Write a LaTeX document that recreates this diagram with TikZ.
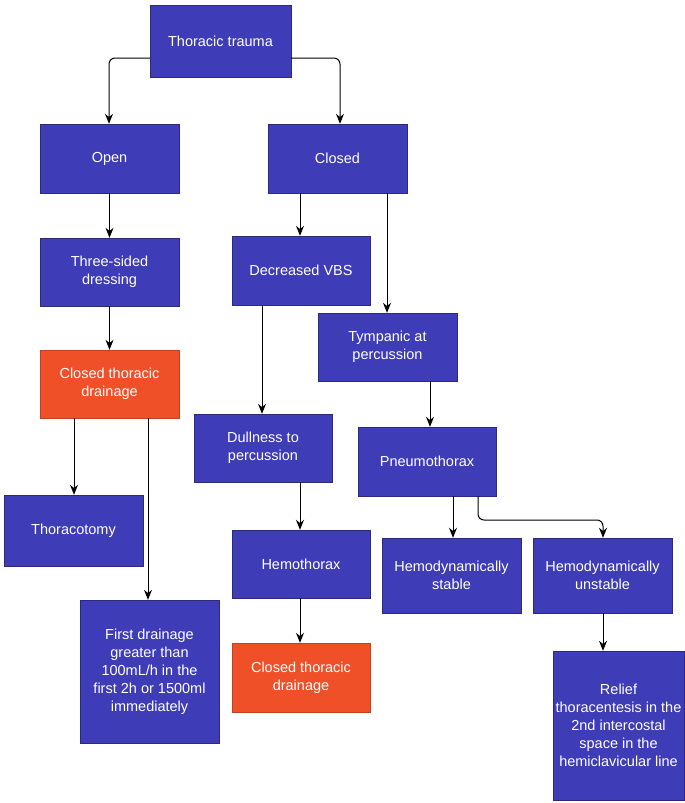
\documentclass[tikz,border=0pt]{standalone}
\usepackage{fontspec}
\setmainfont{Liberation Sans}
\usetikzlibrary{arrows.meta}
\definecolor{bx}{RGB}{62,60,182}
\definecolor{rd}{RGB}{240,80,40}
\begin{document}
\begin{tikzpicture}[x=1pt,y=-1pt,
 box/.style={fill=bx,draw=bx!70!black,line width=0.4pt,text=white,align=center,font=\fontsize{14.5}{18}\selectfont,inner sep=2pt},
 red/.style={box,fill=rd,draw=rd!80!black},
 arr/.style={-{Stealth[length=10pt,width=8pt]},line width=1pt,rounded corners=6pt}]
\useasboundingbox (0,0) rectangle (685,803);
\newcommand\bxat[7]{\node[#1,minimum width=#4-#2,minimum height=#5-#3] (#6) at ({(#2+#4)/2},{(#3+#5)/2}) {#7};}
\bxat{box}{150}{5}{291}{77}{tt}{Thoracic trauma}
\bxat{box}{40}{124}{179}{193}{op}{Open}
\bxat{box}{268}{124}{407}{193}{cl}{Closed}
\bxat{box}{40}{238}{179}{306}{ts}{Three-sided\\dressing}
\bxat{box}{232}{236}{370}{305}{dv}{Decreased VBS}
\bxat{red}{40}{350}{179}{418}{cd}{Closed thoracic\\drainage}
\bxat{box}{318}{313}{457}{381}{ty}{Tympanic at\\percussion}
\bxat{box}{4}{495}{143}{566}{th}{Thoracotomy}
\bxat{box}{194}{414}{332}{482}{du}{Dullness to\\percussion}
\bxat{box}{358}{427}{496}{496}{pn}{Pneumothorax}
\bxat{box}{232}{530}{370}{598}{he}{Hemothorax}
\bxat{box}{382}{538}{521}{613}{hs}{Hemodynamically\\stable}
\bxat{box}{533}{538}{672}{613}{hu}{Hemodynamically\\unstable}
\bxat{box}{80}{600}{219}{743}{fd}{First drainage\\greater than\\100mL/h in the\\first 2h or 1500ml\\immediately}
\bxat{red}{232}{643}{370}{712}{cd2}{Closed thoracic\\drainage}
\bxat{box}{553}{651}{684}{800}{re}{Relief\\thoracentesis in the\\2nd intercostal\\space in the\\hemiclavicular line}
\draw[arr] (tt.west |- 0,58) -| (op.north -| 109,0);
\draw[arr] (tt.east |- 0,58) -| (cl.north -| 340,0);
\draw[arr] (op.south) -- (ts.north);
\draw[arr] (cl.south -| 300,0) -- (dv.north -| 300,0);
\draw[arr] (cl.south -| 387,0) -- (ty.north -| 387,0);
\draw[arr] (ts.south) -- (cd.north);
\draw[arr] (dv.south -| 262,0) -- (du.north -| 262,0);
\draw[arr] (cd.south -| 74,0) -- (th.north -| 74,0);
\draw[arr] (cd.south -| 148,0) -- (fd.north -| 148,0);
\draw[arr] (ty.south -| 430,0) -- (pn.north -| 430,0);
\draw[arr] (du.south -| 300,0) -- (he.north -| 300,0);
\draw[arr] (pn.south -| 453,0) -- (hs.north -| 453,0);
\draw[arr] (pn.south -| 478,0) |- (603,520) -- (hu.north -| 603,0);
\draw[arr] (he.south -| 300,0) -- (cd2.north -| 300,0);
\draw[arr] (hu.south -| 603,0) -- (re.north -| 603,0);
\end{tikzpicture}
\end{document}
